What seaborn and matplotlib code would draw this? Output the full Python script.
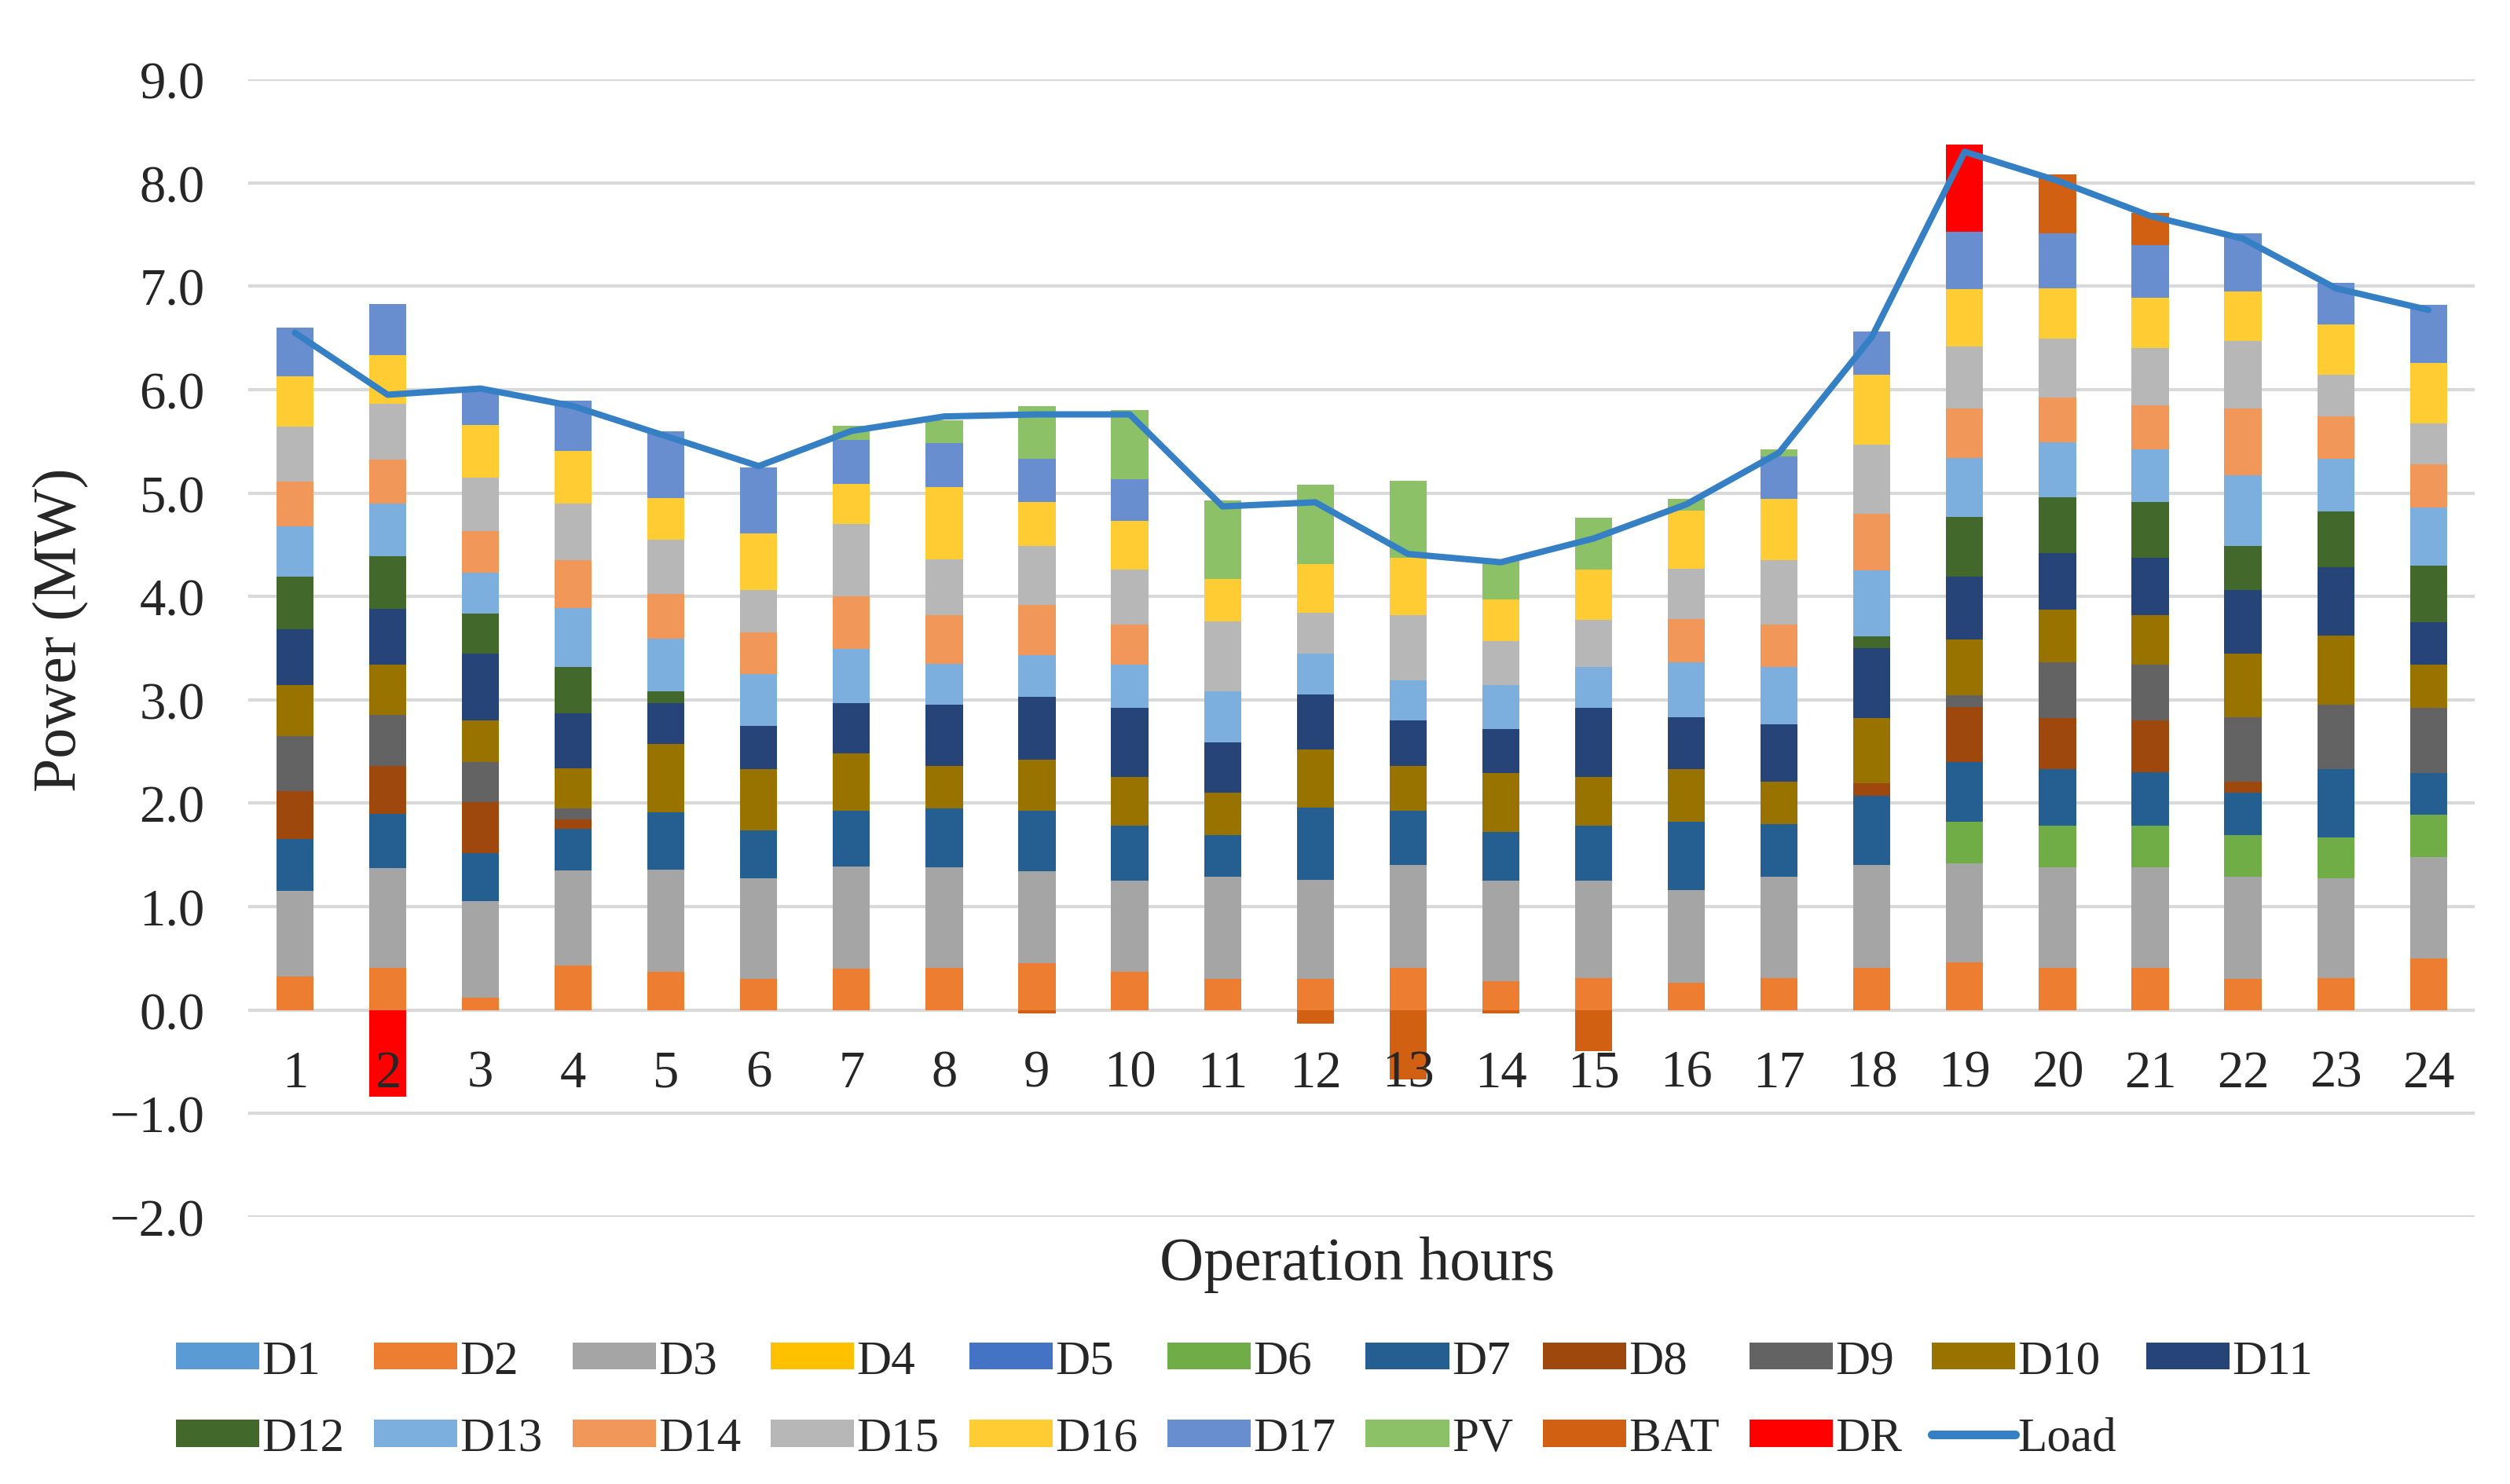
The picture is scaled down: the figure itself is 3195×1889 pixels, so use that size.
import numpy as np
import matplotlib
matplotlib.use("Agg")
import matplotlib.pyplot as plt
import seaborn as sns
from matplotlib.patches import Patch
from matplotlib.lines import Line2D
from matplotlib.ticker import FuncFormatter

# operation hours
hours = [str(h) for h in range(1, 25)]

# generation per unit (MW)
D1 = [0.0] * 24
D2 = [0.32, 0.41, 0.12, 0.43, 0.37, 0.30, 0.40, 0.41, 0.45, 0.37, 0.30, 0.30,
      0.41, 0.28, 0.31, 0.26, 0.31, 0.41, 0.46, 0.41, 0.41, 0.30, 0.31, 0.50]
D3 = [0.83, 0.96, 0.93, 0.92, 0.99, 0.97, 0.99, 0.97, 0.89, 0.88, 0.99, 0.96,
      0.99, 0.97, 0.94, 0.90, 0.98, 0.99, 0.96, 0.97, 0.97, 0.99, 0.96, 0.98]
D4 = [0.0] * 24
D5 = [0.0] * 24
D6 = [0, 0, 0, 0, 0, 0, 0, 0, 0, 0, 0, 0,
      0, 0, 0, 0, 0, 0, 0.40, 0.40, 0.40, 0.40, 0.40, 0.41]
D7 = [0.50, 0.53, 0.47, 0.40, 0.55, 0.47, 0.54, 0.57, 0.59, 0.53, 0.40, 0.70,
      0.53, 0.47, 0.53, 0.66, 0.51, 0.67, 0.58, 0.55, 0.52, 0.41, 0.66, 0.40]
D8 = [0.47, 0.46, 0.49, 0.09, 0, 0, 0, 0, 0, 0, 0, 0,
      0, 0, 0, 0, 0, 0.12, 0.53, 0.49, 0.50, 0.11, 0, 0]
D9 = [0.53, 0.49, 0.39, 0.11, 0, 0, 0, 0, 0, 0, 0, 0,
      0, 0, 0, 0, 0, 0, 0.11, 0.54, 0.54, 0.62, 0.62, 0.63]
D10 = [0.49, 0.49, 0.40, 0.39, 0.66, 0.59, 0.55, 0.41, 0.49, 0.47, 0.41, 0.56,
       0.43, 0.57, 0.47, 0.51, 0.41, 0.63, 0.54, 0.51, 0.48, 0.62, 0.67, 0.42]
D11 = [0.54, 0.54, 0.65, 0.53, 0.40, 0.42, 0.49, 0.59, 0.61, 0.67, 0.49, 0.53,
       0.44, 0.43, 0.67, 0.50, 0.55, 0.68, 0.61, 0.55, 0.55, 0.61, 0.66, 0.41]
D12 = [0.51, 0.51, 0.38, 0.45, 0.11, 0, 0, 0, 0, 0, 0, 0,
       0, 0, 0, 0, 0, 0.11, 0.58, 0.54, 0.54, 0.43, 0.54, 0.55]
D13 = [0.49, 0.51, 0.40, 0.57, 0.51, 0.50, 0.52, 0.40, 0.40, 0.42, 0.49, 0.40,
       0.39, 0.42, 0.40, 0.53, 0.56, 0.64, 0.57, 0.53, 0.51, 0.68, 0.51, 0.56]
D14 = [0.43, 0.42, 0.40, 0.46, 0.43, 0.40, 0.51, 0.47, 0.49, 0.39, 0, 0,
       0, 0, 0, 0.42, 0.41, 0.55, 0.48, 0.43, 0.43, 0.65, 0.41, 0.42]
D15 = [0.53, 0.54, 0.52, 0.55, 0.53, 0.41, 0.70, 0.54, 0.57, 0.53, 0.68, 0.39,
       0.63, 0.43, 0.45, 0.49, 0.62, 0.67, 0.60, 0.57, 0.55, 0.65, 0.40, 0.39]
D16 = [0.49, 0.47, 0.51, 0.51, 0.40, 0.55, 0.39, 0.70, 0.42, 0.47, 0.41, 0.47,
       0.55, 0.40, 0.49, 0.56, 0.59, 0.67, 0.55, 0.49, 0.49, 0.48, 0.49, 0.59]
D17 = [0.47, 0.50, 0.34, 0.48, 0.65, 0.64, 0.42, 0.42, 0.42, 0.40, 0, 0,
       0, 0, 0, 0, 0.41, 0.42, 0.56, 0.53, 0.51, 0.56, 0.40, 0.56]
PV = [0, 0, 0, 0, 0, 0, 0.14, 0.22, 0.51, 0.67, 0.76, 0.77,
      0.75, 0.38, 0.50, 0.11, 0.07, 0, 0, 0, 0, 0, 0, 0]
BAT = [0, 0, 0, 0, 0, 0, 0, 0, -0.03, 0, 0, -0.13,
       -0.67, -0.03, -0.40, 0, 0, 0, 0, 0.57, 0.31, 0, 0, 0]
DR = [0, -0.84, 0, 0, 0, 0, 0, 0, 0, 0, 0, 0,
      0, 0, 0, 0, 0, 0, 0.84, 0, 0, 0, 0, 0]
load = [6.55, 5.95, 6.01, 5.84, 5.55, 5.26, 5.60, 5.74, 5.76, 5.76, 4.87, 4.91,
        4.41, 4.33, 4.56, 4.89, 5.39, 6.51, 8.30, 8.02, 7.68, 7.46, 6.98, 6.77]

series_names = ["D1", "D2", "D3", "D4", "D5", "D6", "D7", "D8", "D9", "D10", "D11",
                "D12", "D13", "D14", "D15", "D16", "D17", "PV", "BAT", "DR"]
series_values = [D1, D2, D3, D4, D5, D6, D7, D8, D9, D10, D11,
                 D12, D13, D14, D15, D16, D17, PV, BAT, DR]
series_colors = ["#5B9BD5", "#ED7D31", "#A5A5A5", "#FFC000", "#4472C4", "#70AD47",
                 "#255E91", "#9E480E", "#636363", "#997300", "#264478", "#43682B",
                 "#7CAFDD", "#F1975A", "#B7B7B7", "#FFCD33", "#698ED0", "#8CC168",
                 "#D26012", "#FF0000"]
load_color = "#3580C4"

sns.set_theme(style="white")
plt.rcParams["font.family"] = ["Liberation Serif", "DejaVu Serif"]
plt.rcParams["axes.unicode_minus"] = True

fig = plt.figure(figsize=(15.975, 9.45), dpi=200)
ax = fig.add_axes([0.099, 0.180, 0.887, 0.766])

# stacked bars: draw cumulative totals from the top series down
vals = np.array(series_values, dtype=float)
pos_cum = np.cumsum(np.clip(vals, 0, None), axis=0)
neg_cum = np.cumsum(np.clip(vals, None, 0), axis=0)
for i in reversed(range(len(series_names))):
    for cum in (pos_cum[i], neg_cum[i]):
        sns.barplot(x=hours, y=cum, order=hours, color=series_colors[i],
                    saturation=1, width=0.4, errorbar=None, linewidth=0, ax=ax)

sns.lineplot(x=np.arange(24), y=load, color=load_color, linewidth=2.9, ax=ax)

ax.set_xlim(-0.5, 23.5)
ax.set_ylim(-2, 9)
ax.set_yticks(range(-2, 10))
ax.yaxis.set_major_formatter(FuncFormatter(lambda v, _: f"{v:.1f}".replace("-", "\u2212")))
ax.yaxis.grid(True, color="#D9D9D9", linewidth=1.5)
ax.set_axisbelow(True)
# hour labels sit on top of the bars, as in the original
ax.xaxis.set_zorder(5)
ax.spines["bottom"].set_position(("data", 0))
for s in ax.spines.values():
    s.set_visible(False)
ax.tick_params(axis="x", length=0, pad=18, labelsize=24)
ax.tick_params(axis="y", length=0, pad=20, labelsize=24)
ax.set_xlabel("")
ax.set_ylabel("")

fig.text(0.5408, 0.148, "Operation hours", ha="center", va="center", fontsize=28)
fig.text(0.0244, 0.576, "Power (MW)", ha="center", va="center", rotation=90, fontsize=28)

# legend, laid out row by row like the original
handles = [Patch(facecolor=c, edgecolor="none") for c in series_colors]
handles.append(Line2D([0], [0], color=load_color, linewidth=4))
labels = series_names + ["Load"]
row1 = list(zip(handles[:11], labels[:11]))
row2 = list(zip(handles[11:], labels[11:]))
ordered = []
for k in range(11):
    ordered.append(row1[k])
    if k < len(row2):
        ordered.append(row2[k])
fig.legend([h for h, _ in ordered], [l for _, l in ordered], ncol=11,
           loc="center left", bbox_to_anchor=(0.070, 0.0566), frameon=False,
           fontsize=22, handlelength=1.74, handleheight=0.5, handletextpad=0.05,
           columnspacing=0.62, labelspacing=0.7, borderpad=0, borderaxespad=0)

fig.savefig("out.png", dpi=200)
